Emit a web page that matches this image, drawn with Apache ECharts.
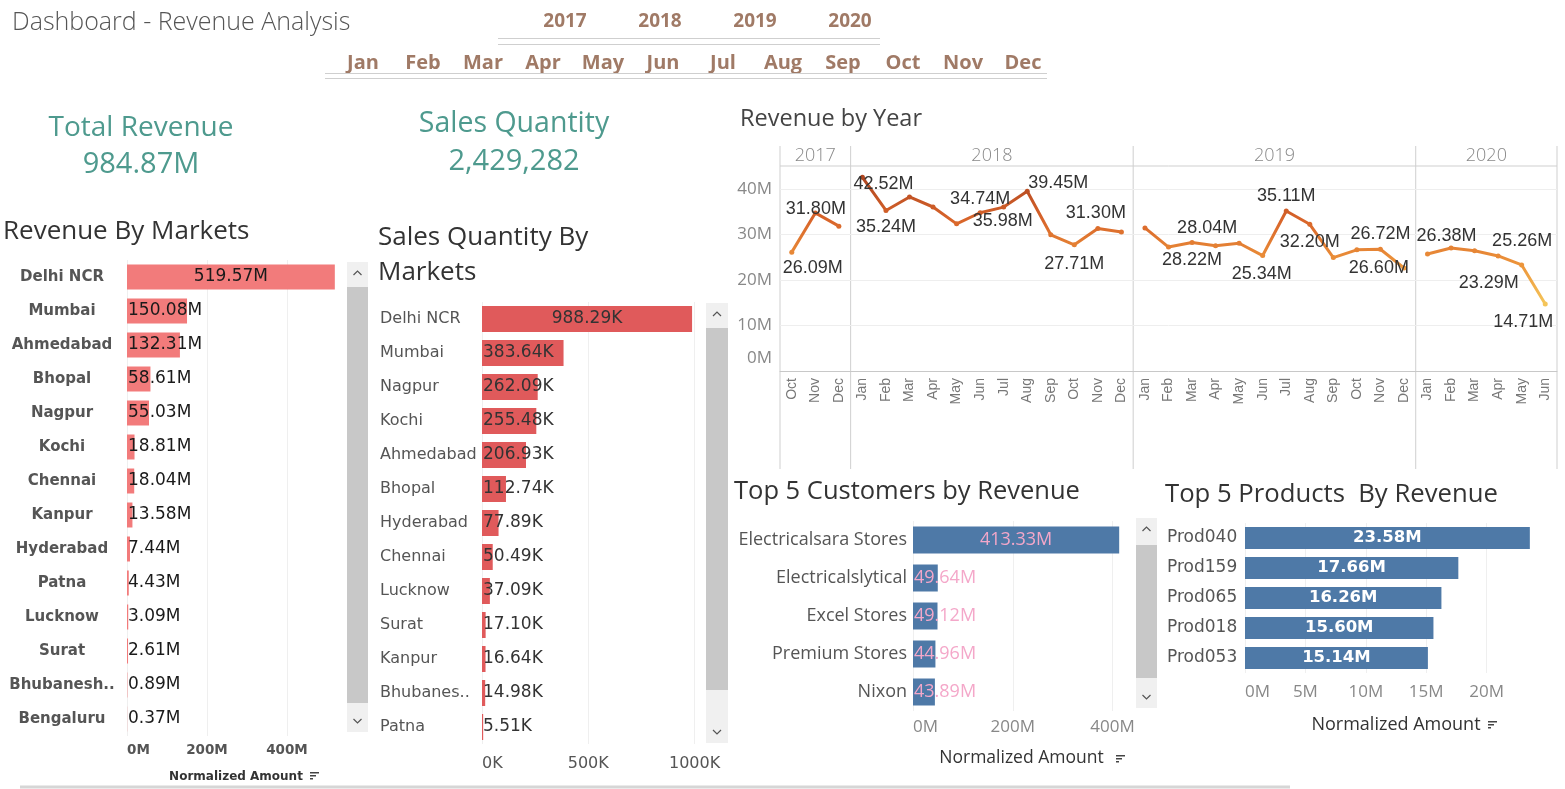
<!DOCTYPE html>
<html><head><meta charset="utf-8">
<script src="https://cdn.jsdelivr.net/npm/echarts@6/dist/echarts.min.js"></script>
<style>html,body{margin:0;padding:0;background:#fff;}#c{width:1565px;height:789px;}</style>
</head><body><div id="c"></div><script>
// ---------- data ----------
const marketNames = ['Delhi NCR','Mumbai','Ahmedabad','Bhopal','Nagpur','Kochi','Chennai','Kanpur','Hyderabad','Patna','Lucknow','Surat','Bhubanesh..','Bengaluru'];
const marketRevenueM = [519.57,150.08,132.31,58.61,55.03,18.81,18.04,13.58,7.44,4.43,3.09,2.61,0.89,0.37];
const qtyMarketNames = ['Delhi NCR','Mumbai','Nagpur','Kochi','Ahmedabad','Bhopal','Hyderabad','Chennai','Lucknow','Surat','Kanpur','Bhubanes..','Patna'];
const marketQtyK = [988.29,383.64,262.09,255.48,206.93,112.74,77.89,50.49,37.09,17.10,16.64,14.98,5.51];
const customerNames = ['Electricalsara Stores','Electricalslytical','Excel Stores','Premium Stores','Nixon'];
const customerRevenueM = [413.33,49.64,49.12,44.96,43.89];
const productNames = ['Prod040','Prod159','Prod065','Prod018','Prod053'];
const productRevenueM = [23.58,17.66,16.26,15.60,15.14];
const yearFilter = ['2017','2018','2019','2020'];
const monthFilter = ['Jan','Feb','Mar','Apr','May','Jun','Jul','Aug','Sep','Oct','Nov','Dec'];
const lineYears = ['2017','2018','2019','2020'];
const months2017 = ['Oct','Nov','Dec'];
const months2018 = ['Jan','Feb','Mar','Apr','May','Jun','Jul','Aug','Sep','Oct','Nov','Dec'];
const months2019 = ['Jan','Feb','Mar','Apr','May','Jun','Jul','Aug','Sep','Oct','Nov','Dec'];
const months2020 = ['Jan','Feb','Mar','Apr','May','Jun'];
const revenue2017 = [26.09,34.70,31.80];
const revenue2018 = [42.52,35.24,38.20,36.00,32.30,34.74,35.98,39.45,29.90,27.71,31.30,30.50];
const revenue2019 = [31.40,27.20,28.22,27.50,28.04,25.34,35.11,32.20,24.90,26.60,26.72,22.60];
const revenue2020 = [25.70,27.00,26.38,25.26,23.29,14.71];
const kpiTotalRevenue = '984.87M';
const kpiSalesQty = '2,429,282';

// ---------- styling (label placement of the line chart, style only) ----------
const lineLabelOffsets = {
  '0-0':[21,16],'0-2':[-23,-17],
  '1-0':[21,7],'1-1':[0,17],'1-5':[0,-14],'1-6':[-1,14],'1-7':[31,-8],'1-9':[0,19],'1-10':[-2,-15],
  '2-2':[0,18],'2-4':[-32,-15],'2-5':[-1,18],'2-6':[0,-15],'2-7':[0,18],'2-9':[22,18],'2-10':[0,-15],
  '3-2':[-28,-15],'3-3':[24,-15],'3-4':[-33,18],'3-5':[-22,18]
};

const chart = echarts.init(document.getElementById('c'));
const OS = 'Open Sans', DJ = 'DejaVu Sans', LS = 'Liberation Sans';
const teal = '#4e9a8e', brown = '#a07a66';

function txt(text, x, y, o) {
  o = o || {};
  return {type:'text', x:x, y:y, silent:true, style:{text:text, fill:o.fill||'#333', fontFamily:o.ff||OS, fontSize:o.fs||16, fontWeight:o.fw||'normal', align:o.align||'left', verticalAlign:'middle'}};
}
function hline(x1, x2, y, c, w) { return {type:'line', silent:true, shape:{x1:x1,y1:y,x2:x2,y2:y}, style:{stroke:c||'#ccc', lineWidth:w||1}}; }
function vline(x, y1, y2, c, w) { return {type:'line', silent:true, shape:{x1:x,y1:y1,x2:x,y2:y2}, style:{stroke:c||'#ccc', lineWidth:w||1}}; }
function scrollbar(x, y, w, h, t1, t2) {
  const cx = x + w/2;
  return [
    {type:'rect', silent:true, shape:{x:x,y:y,width:w,height:h}, style:{fill:'#f0f0f0'}},
    {type:'rect', silent:true, shape:{x:x,y:t1,width:w,height:t2-t1}, style:{fill:'#c8c8c8'}},
    {type:'polyline', silent:true, shape:{points:[[cx-4,y+13],[cx,y+9],[cx+4,y+13]]}, style:{stroke:'#555', lineWidth:1.2, fill:null}},
    {type:'polyline', silent:true, shape:{points:[[cx-4,y+h-13],[cx,y+h-9],[cx+4,y+h-13]]}, style:{stroke:'#555', lineWidth:1.2, fill:null}}
  ];
}
function sortIcon(x, y) {
  return [
    {type:'rect', silent:true, shape:{x:x,y:y,width:9,height:1.5}, style:{fill:'#444'}},
    {type:'rect', silent:true, shape:{x:x,y:y+3,width:6,height:1.5}, style:{fill:'#444'}},
    {type:'rect', silent:true, shape:{x:x,y:y+6,width:3,height:1.5}, style:{fill:'#444'}}
  ];
}

// line chart layout
const LG = {left:780, top:166, width:777, height:205};
const monthsByYear = [months2017, months2018, months2019, months2020];
const lineMonths = [].concat(months2017, months2018, months2019, months2020);
const step = LG.width / lineMonths.length;

const graphics = [];
graphics.push(txt('Dashboard - Revenue Analysis', 12, 23, {fs:25, fill:'#555', fw:300}));
yearFilter.forEach((y, i) => graphics.push(txt(y, 565 + i*95, 22, {fs:19, fw:'bold', fill:brown, align:'center'})));
graphics.push(hline(498, 880, 38.5, '#cfcfcf'), hline(498, 880, 44.5, '#cfcfcf'));
monthFilter.forEach((m, i) => graphics.push(txt(m, 363 + i*60, 63, {fs:20, fw:'bold', fill:brown, align:'center'})));
graphics.push(hline(325, 1047, 73.5, '#cfcfcf'), hline(325, 1047, 78.5, '#cfcfcf'));
graphics.push(txt('Total Revenue', 141, 128, {fs:28, fill:teal, align:'center'}));
graphics.push(txt(kpiTotalRevenue, 141, 165, {fs:29, fill:teal, align:'center'}));
graphics.push(txt('Sales Quantity', 514, 124, {fs:28.5, fill:teal, align:'center'}));
graphics.push(txt(kpiSalesQty, 514, 162, {fs:29, fill:teal, align:'center'}));
graphics.push(txt('Revenue By Markets', 3, 232, {fs:26}));
graphics.push(txt('Sales Quantity By', 378, 238, {fs:26}));
graphics.push(txt('Markets', 378, 273, {fs:26}));
graphics.push(txt('Revenue by Year', 740, 119, {fs:23.5, fill:'#444'}));
graphics.push(txt('Top 5 Customers by Revenue', 734, 492, {fs:25.5}));
graphics.push(txt('Top 5 Products  By Revenue', 1165, 495, {fs:25.7}));
// line chart panes
let cum = 0;
const bounds = [0];
monthsByYear.forEach(m => { cum += m.length; bounds.push(cum); });
bounds.forEach(b => graphics.push(vline(LG.left + b*step, 146, 469, '#cfcfcf')));
lineYears.forEach((y, k) => {
  const cx = LG.left + (bounds[k] + bounds[k+1]) / 2 * step;
  graphics.push(txt(y, cx, 156, {fs:18, fill:'#888', align:'center', fw:300}));
});
graphics.push(hline(LG.left, LG.left + LG.width, LG.top, '#cfcfcf'));
graphics.push(...scrollbar(347, 262, 21, 470, 287, 703));
graphics.push(...scrollbar(706, 303, 22, 440, 328, 690));
graphics.push(...scrollbar(1136, 518, 21, 190, 545, 678));
graphics.push(...sortIcon(310, 772), ...sortIcon(1116, 755), ...sortIcon(1488, 721));
graphics.push(hline(20, 1290, 787, '#d6d6d6', 3));

// line series
let startIdx = 0;
const yearSeries = [revenue2017, revenue2018, revenue2019, revenue2020];
const lineSeries = yearSeries.map((vals, k) => {
  const data = lineMonths.map(() => '-');
  const s0 = startIdx;
  vals.forEach((v, i) => {
    const off = lineLabelOffsets[k + '-' + i];
    data[s0 + i] = off ? {value:v, label:{show:true}} : v;
  });
  startIdx += vals.length;
  return {
    type:'line', xAxisIndex:2, yAxisIndex:2, data:data, symbol:'circle', symbolSize:5,
    lineStyle:{width:3}, connectNulls:false, z:3,
    label:{show:false, position:'inside', formatter:p => Number(p.value).toFixed(2) + 'M', color:'#333', fontSize:18, fontFamily:LS},
    labelLayout:function (p) {
      const off = lineLabelOffsets[k + '-' + (p.dataIndex - s0)];
      return off ? {dx:off[0], dy:off[1], hideOverlap:false} : {};
    }
  };
});

function barData(vals) { return vals.map((v, i) => i === 0 ? {value:v, label:{position:'inside'}} : v); }

const option = {
  animation:false,
  backgroundColor:'#fff',
  grid:[
    {left:127, top:260, width:218, height:476},
    {left:482, top:302, width:220, height:442},
    {left:LG.left, top:LG.top, width:LG.width, height:LG.height},
    {left:913, top:521, width:217, height:190},
    {left:1245, top:523, width:302, height:150}
  ],
  xAxis:[
    {gridIndex:0, type:'value', min:0, max:545, interval:200,
     axisLabel:{formatter:v => v + 'M', fontFamily:DJ, fontWeight:'bold', fontSize:13.5, color:'#555', margin:7, showMaxLabel:false, alignMinLabel:'left'},
     splitLine:{lineStyle:{color:'#efefef'}, showMaxLine:false}, axisLine:{show:false}, axisTick:{show:false},
     name:'Normalized Amount', nameLocation:'middle', nameGap:35, nameTextStyle:{fontFamily:DJ, fontWeight:'bold', fontSize:12, color:'#333'}},
    {gridIndex:1, type:'value', min:0, max:1035, interval:500,
     axisLabel:{formatter:v => v + 'K', fontFamily:DJ, fontSize:16, color:'#555', margin:12, showMaxLabel:false, alignMinLabel:'left'},
     splitLine:{lineStyle:{color:'#efefef'}, showMaxLine:false}, axisLine:{show:false}, axisTick:{show:false}},
    {gridIndex:2, type:'category', data:lineMonths, boundaryGap:true,
     axisLabel:{rotate:90, interval:0, color:'#777', fontSize:14, fontFamily:LS, margin:7},
     axisTick:{show:false}, axisLine:{lineStyle:{color:'#c8c8c8'}}},
    {gridIndex:3, type:'value', min:0, max:435, interval:200,
     axisLabel:{formatter:v => v + 'M', fontFamily:OS, fontSize:17, color:'#888', margin:8, showMaxLabel:false, alignMinLabel:'left'},
     splitLine:{lineStyle:{color:'#efefef'}, showMaxLine:false}, axisLine:{show:false}, axisTick:{show:false},
     name:'Normalized Amount', nameLocation:'middle', nameGap:38, nameTextStyle:{fontFamily:OS, fontSize:17.5, color:'#333'}},
    {gridIndex:4, type:'value', min:0, max:25, interval:5,
     axisLabel:{formatter:v => v + 'M', fontFamily:OS, fontSize:17, color:'#888', margin:11, showMaxLabel:false, alignMinLabel:'left'},
     splitLine:{lineStyle:{color:'#efefef'}, showMaxLine:false}, axisLine:{lineStyle:{color:'#eee'}}, axisTick:{show:false},
     name:'Normalized Amount', nameLocation:'middle', nameGap:43, nameTextStyle:{fontFamily:OS, fontSize:18, color:'#333'}}
  ],
  yAxis:[
    {gridIndex:0, type:'category', data:marketNames, inverse:true,
     axisLabel:{align:'center', margin:65, fontFamily:DJ, fontWeight:'bold', fontSize:15, color:'#555', interval:0},
     axisLine:{show:false}, axisTick:{show:false}},
    {gridIndex:1, type:'category', data:qtyMarketNames, inverse:true,
     axisLabel:{align:'left', margin:102, fontFamily:DJ, fontSize:16, color:'#555', interval:0},
     axisLine:{show:false}, axisTick:{show:false}},
    {gridIndex:2, type:'value', min:0, max:45, interval:10,
     axisLabel:{formatter:v => v === 0 ? '{z|0M}' : v + 'M', color:'#888', fontSize:17, fontFamily:OS, margin:8, showMaxLabel:false,
       rich:{z:{color:'#888', fontSize:17, fontFamily:OS, padding:[0,0,26,0]}}},
     splitLine:{lineStyle:{color:'#eeeeee'}, showMaxLine:false}, axisLine:{show:false}, axisTick:{show:false}},
    {gridIndex:3, type:'category', data:customerNames, inverse:true,
     axisLabel:{align:'right', margin:6, fontFamily:OS, fontSize:18, color:'#555', interval:0},
     axisLine:{show:false}, axisTick:{show:false}},
    {gridIndex:4, type:'category', data:productNames, inverse:true,
     axisLabel:{align:'left', margin:78, fontFamily:DJ, fontSize:17, color:'#555', interval:0},
     axisLine:{show:false}, axisTick:{show:false}}
  ],
  visualMap:{type:'continuous', show:false, seriesIndex:[2,3,4,5], dimension:1, min:14, max:43,
    inRange:{color:['#f5c95c','#ec933a','#d8642a','#ad4420']}},
  series:[
    {type:'bar', xAxisIndex:0, yAxisIndex:0, data:barData(marketRevenueM), barWidth:25, itemStyle:{color:'#f27b7b'},
     label:{show:true, position:'insideLeft', distance:1, formatter:p => p.value.toFixed(2) + 'M', color:'#1a1a1a', fontFamily:DJ, fontSize:17}},
    {type:'bar', xAxisIndex:1, yAxisIndex:1, data:barData(marketQtyK), barWidth:26, itemStyle:{color:'#e05a5b'},
     label:{show:true, position:'insideLeft', distance:1, formatter:p => p.value.toFixed(2) + 'K', color:'#333', fontFamily:DJ, fontSize:17}},
    ...lineSeries,
    {type:'bar', xAxisIndex:3, yAxisIndex:3, data:barData(customerRevenueM), barWidth:27, itemStyle:{color:'#4e79a7'},
     label:{show:true, position:'insideLeft', distance:1, formatter:p => p.value.toFixed(2) + 'M', color:'#f4a7c9', fontFamily:OS, fontSize:18}},
    {type:'bar', xAxisIndex:4, yAxisIndex:4, data:productRevenueM, barWidth:22, itemStyle:{color:'#4e79a7'},
     label:{show:true, position:'inside', formatter:p => p.value.toFixed(2) + 'M', color:'#fff', fontFamily:DJ, fontWeight:'bold', fontSize:16.5}}
  ],
  graphic:graphics
};
chart.setOption(option);
</script></body></html>
